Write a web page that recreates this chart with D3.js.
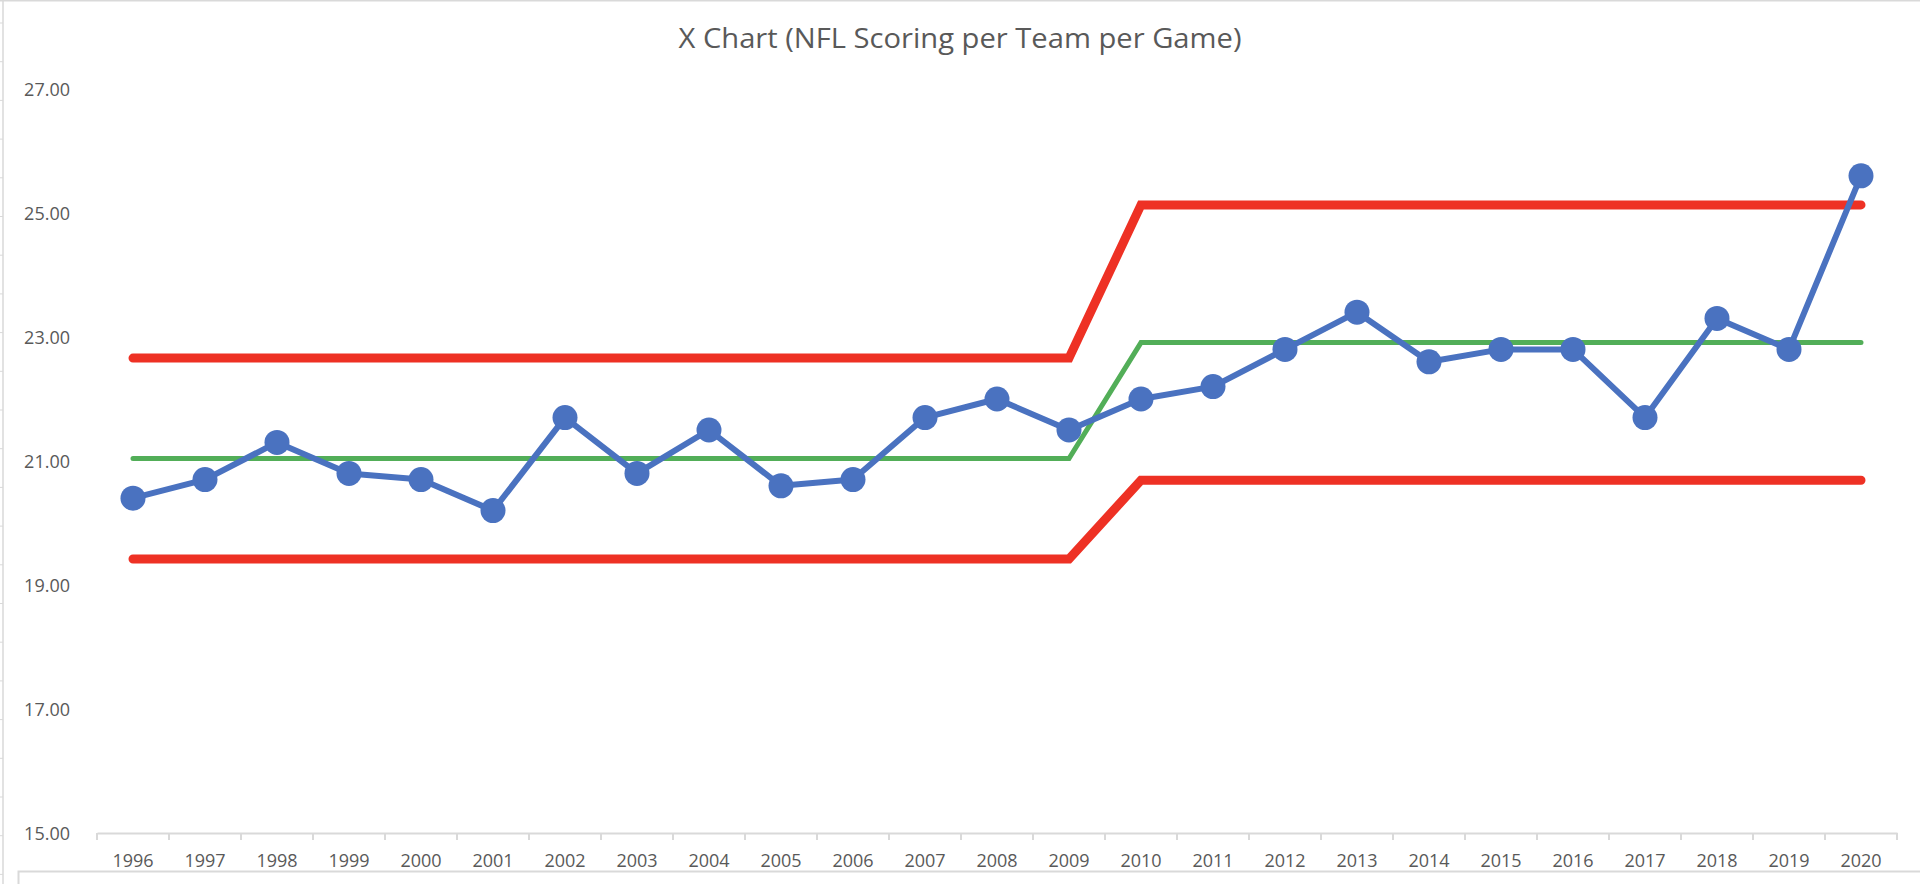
<!DOCTYPE html>
<html>
<head>
<meta charset="utf-8">
<script src="https://cdn.jsdelivr.net/npm/d3@7"></script>
<style>
  html, body { margin: 0; padding: 0; background: #ffffff; }
  svg { display: block; }
</style>
</head>
<body>
<svg id="chart" width="1920" height="884"></svg>
<script>
// ---- Data ----
const years = ["1996","1997","1998","1999","2000","2001","2002","2003","2004","2005","2006","2007","2008","2009","2010","2011","2012","2013","2014","2015","2016","2017","2018","2019","2020"];
const scoring = [20.4,20.7,21.3,20.8,20.7,20.2,21.7,20.8,21.5,20.6,20.7,21.7,22.0,21.5,22.0,22.2,22.8,23.4,22.6,22.8,22.8,21.7,23.3,22.8,25.6];
const average = [21.04,21.04,21.04,21.04,21.04,21.04,21.04,21.04,21.04,21.04,21.04,21.04,21.04,21.04,22.91,22.91,22.91,22.91,22.91,22.91,22.91,22.91,22.91,22.91,22.91];
const upperLimit = [22.66,22.66,22.66,22.66,22.66,22.66,22.66,22.66,22.66,22.66,22.66,22.66,22.66,22.66,25.13,25.13,25.13,25.13,25.13,25.13,25.13,25.13,25.13,25.13,25.13];
const lowerLimit = [19.42,19.42,19.42,19.42,19.42,19.42,19.42,19.42,19.42,19.42,19.42,19.42,19.42,19.42,20.69,20.69,20.69,20.69,20.69,20.69,20.69,20.69,20.69,20.69,20.69];
const yTicks = [15,17,19,21,23,25,27];
const chartTitle = "X Chart (NFL Scoring per Team per Game)";

// ---- Layout ----
(function () {
const svg = d3.select("#chart");
const W = 1920, H = 884;
const mLeft = 97, mRight = 1897, mTop = 89, mBottom = 833;
const font = "'Open Sans', 'Liberation Sans', sans-serif";
const textColor = "#595959";
const frameColor = "#D9D9D9";

const x = d3.scaleBand().domain(years).range([mLeft, mRight]).paddingInner(0).paddingOuter(0);
const y = d3.scaleLinear().domain([15, 27]).range([mBottom, mTop]);
const cx = d => x(d) + x.bandwidth() / 2;

// ---- Spreadsheet frame decoration ----
const frame = svg.append("g").attr("class", "frame");
frame.append("line").attr("x1", 0).attr("x2", W).attr("y1", 0.5).attr("y2", 0.5)
  .attr("stroke", frameColor).attr("stroke-width", 2);
frame.append("line").attr("x1", 3).attr("x2", 3).attr("y1", 0).attr("y2", H)
  .attr("stroke", frameColor).attr("stroke-width", 1.5);
const rowMarks = d3.range(23, H, 38.7);
frame.selectAll("line.row").data(rowMarks).join("line").attr("class", "row")
  .attr("x1", 0).attr("x2", 3).attr("y1", d => d).attr("y2", d => d)
  .attr("stroke", frameColor).attr("stroke-width", 1);
frame.append("path").attr("d", `M18.5,${H} V871.5 H${W}`)
  .attr("fill", "none").attr("stroke", frameColor).attr("stroke-width", 2);

// ---- Title ----
svg.append("text").attr("x", W / 2).attr("y", 48)
  .attr("text-anchor", "middle")
  .attr("font-family", font).attr("font-size", 28).attr("fill", textColor)
  .attr("textLength", 563).attr("lengthAdjust", "spacingAndGlyphs")
  .text(chartTitle);

// ---- Y axis (labels only) ----
const yAxis = d3.axisLeft(y).tickValues(yTicks).tickFormat(d3.format(".2f")).tickSize(0).tickPadding(0);
const gy = svg.append("g").attr("transform", "translate(70,0)").call(yAxis);
gy.select(".domain").remove();
gy.selectAll("text").attr("font-family", font).attr("font-size", 18).attr("fill", textColor)
  .attr("dy", "0.36em");

// ---- X axis ----
const xAxis = d3.axisBottom(x).tickSize(0).tickPadding(21);
const gx = svg.append("g").attr("transform", `translate(0,${mBottom})`).call(xAxis);
gx.select(".domain").attr("stroke", frameColor).attr("stroke-width", 2);
gx.selectAll("text").attr("font-family", font).attr("font-size", 18).attr("fill", textColor);
const boundaries = years.map(d => x(d)).concat([x(years[years.length - 1]) + x.bandwidth()]);
gx.selectAll("line.bound").data(boundaries).join("line").attr("class", "bound")
  .attr("x1", d => d).attr("x2", d => d).attr("y1", 0).attr("y2", 7)
  .attr("stroke", frameColor).attr("stroke-width", 2);

// ---- Lines ----
const lineGen = arr => d3.line().x((d, i) => cx(years[i])).y(d => y(d))(arr);

svg.append("path").attr("d", lineGen(upperLimit)).attr("fill", "none")
  .attr("stroke", "#EE3124").attr("stroke-width", 9).attr("stroke-linecap", "round").attr("stroke-linejoin", "miter");
svg.append("path").attr("d", lineGen(lowerLimit)).attr("fill", "none")
  .attr("stroke", "#EE3124").attr("stroke-width", 9).attr("stroke-linecap", "round").attr("stroke-linejoin", "miter");
svg.append("path").attr("d", lineGen(average)).attr("fill", "none")
  .attr("stroke", "#52AE58").attr("stroke-width", 5).attr("stroke-linecap", "round").attr("stroke-linejoin", "miter");
svg.append("path").attr("d", lineGen(scoring)).attr("fill", "none")
  .attr("stroke", "#4A72C0").attr("stroke-width", 6).attr("stroke-linecap", "round").attr("stroke-linejoin", "round");

svg.selectAll("circle.pt").data(scoring).join("circle").attr("class", "pt")
  .attr("cx", (d, i) => cx(years[i])).attr("cy", d => y(d)).attr("r", 12.5)
  .attr("fill", "#4A72C0");
})();
</script>
</body>
</html>
